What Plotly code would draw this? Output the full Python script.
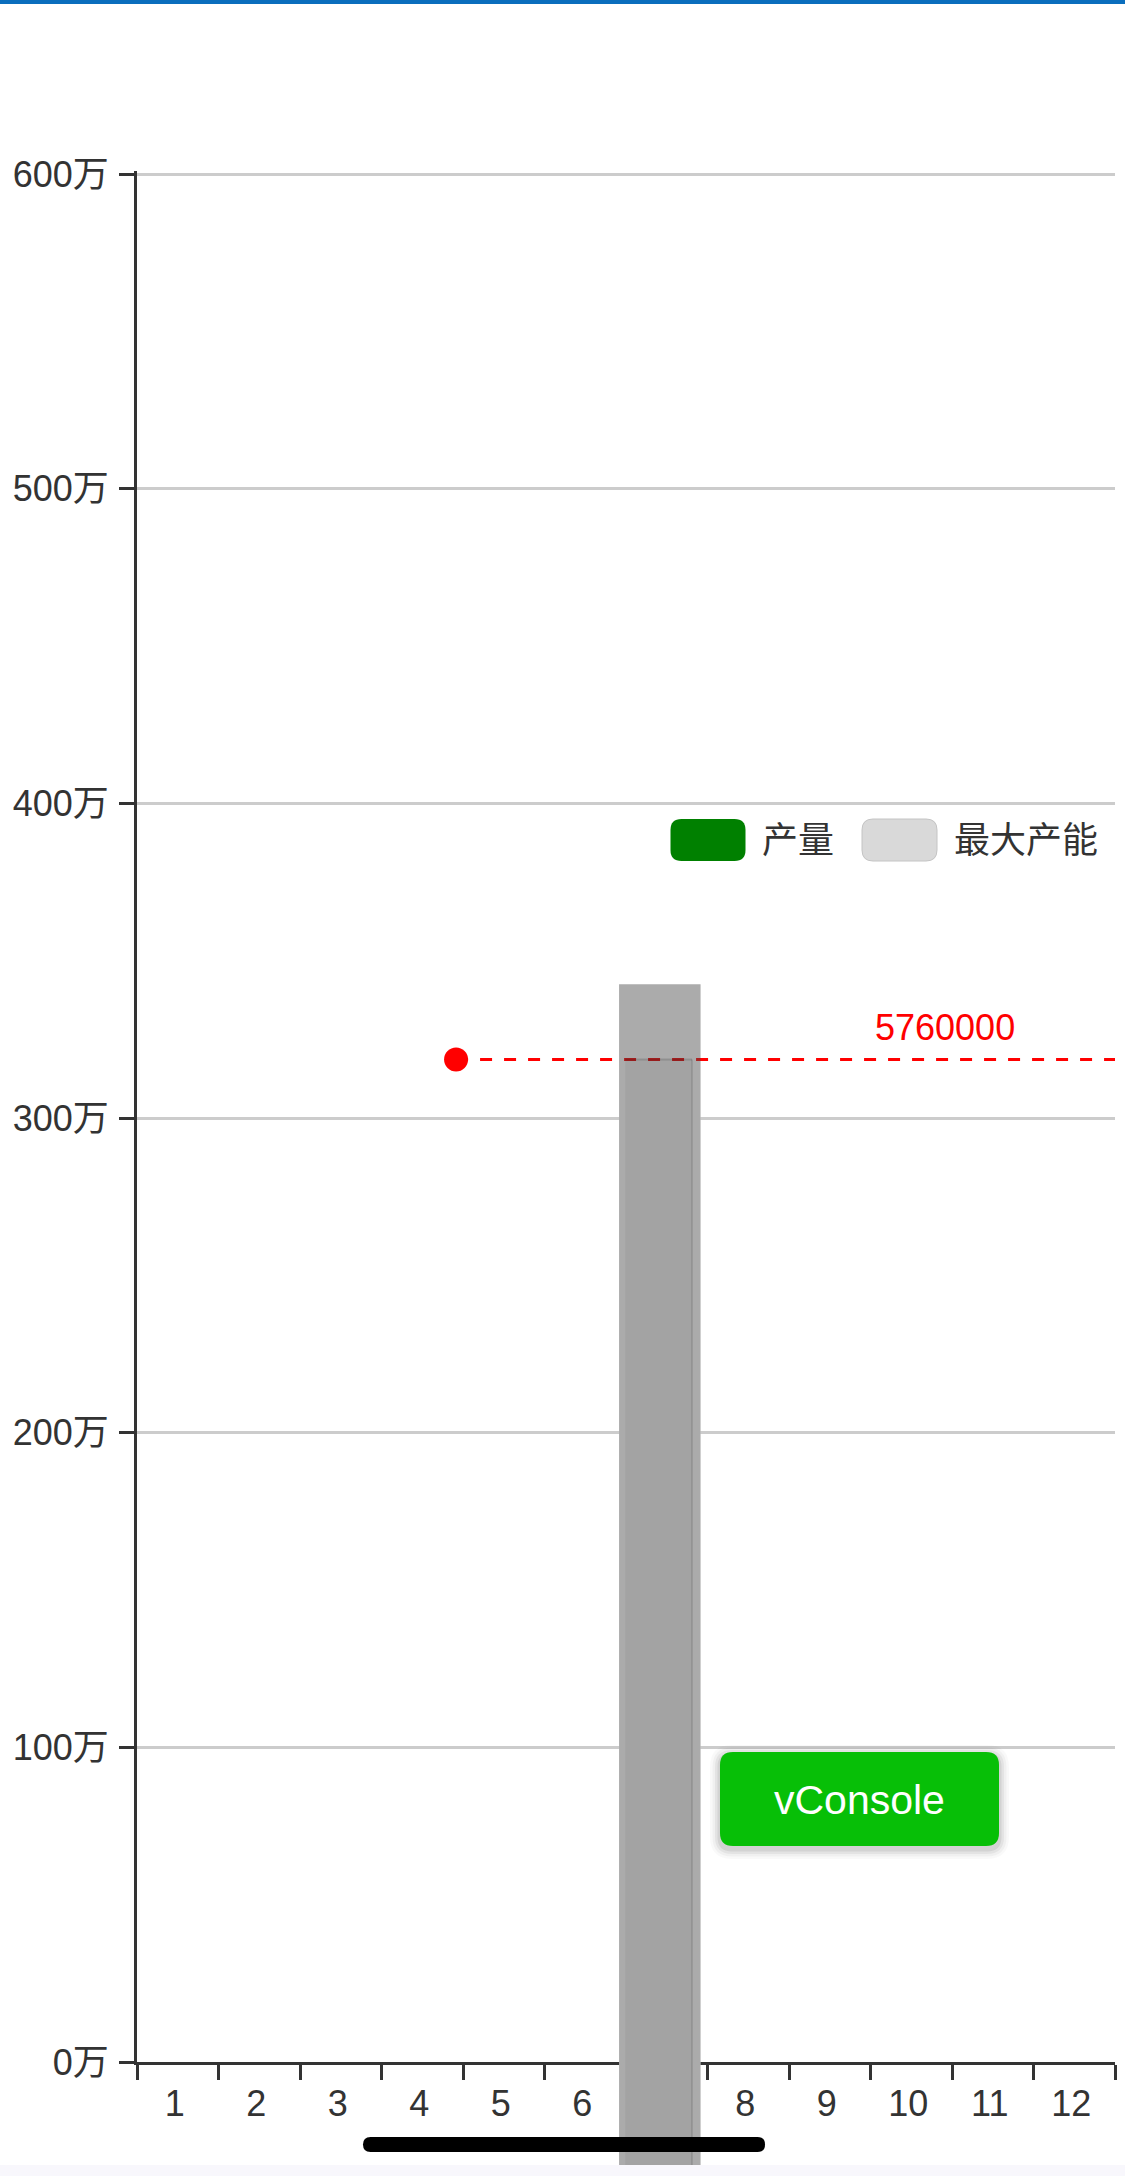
import plotly.graph_objects as go

# ---------------- data ----------------
months = [str(i) for i in range(1, 13)]
month_pos = list(range(12))
production = [0] * 12          # 产量 (no visible bars)
capacity = [0] * 12            # 最大产能 (no visible bars)
series_names = ["产量", "最大产能"]
series_colors = ["#008000", "#d9d9d9"]

y_tick_vals = [0, 1000000, 2000000, 3000000, 4000000, 5000000, 6000000]
y_tick_text = ["0万", "100万", "200万", "300万", "400万", "500万", "600万"]

highlight_center = [5.915]
highlight_top = [3425000]
inner_center = [5.90]
inner_top = [3186000]

markline_start = [3.415]
markline_value = [3186000]
markline_label = ["5760000"]
markline_label_pos = [9.41]

FONT = "Liberation Sans, Noto Sans CJK SC, sans-serif"

# pixel -> paper helpers for decorations
L, R, T, B = 137, 10, 171, 114
W, H = 1125, 2176
PW, PH = W - L - R, H - T - B
Y_MAX = 6010000


def px(x):
    return (x - L) / PW


def py(y):
    return (H - B - y) / PH


def rrect(x0, y0, x1, y1, r):
    pts = [
        ("M", x0 + r, y0), ("L", x1 - r, y0), ("Q", x1, y0, x1, y0 + r),
        ("L", x1, y1 - r), ("Q", x1, y1, x1 - r, y1), ("L", x0 + r, y1),
        ("Q", x0, y1, x0, y1 - r), ("L", x0, y0 + r), ("Q", x0, y0, x0 + r, y0),
    ]
    s = ""
    for p in pts:
        cmd = p[0]
        coords = p[1:]
        parts = []
        for i in range(0, len(coords), 2):
            parts.append(f"{px(coords[i]):.5f},{py(coords[i+1]):.5f}")
        s += cmd + " ".join(parts) + " "
    return s + "Z"


fig = go.Figure()

fig.add_trace(go.Bar(x=month_pos, y=production, name=series_names[0],
                     marker=dict(color=series_colors[0], line=dict(width=0)),
                     showlegend=False, hoverinfo="skip"))
fig.add_trace(go.Bar(x=month_pos, y=capacity, name=series_names[1],
                     marker=dict(color=series_colors[1], line=dict(width=0)),
                     showlegend=False, hoverinfo="skip"))

# red start dot of the mark line
fig.add_trace(go.Scatter(x=markline_start, y=markline_value, mode="markers",
                         marker=dict(color="#ff0000", size=24, line=dict(width=0)),
                         showlegend=False, hoverinfo="skip", cliponaxis=False))

shapes = []
hw = 0.5
iw = 0.41
bottom = py(2165)
# white base covering axis / label under highlighted column
for c, top in zip(highlight_center, highlight_top):
    shapes.append(dict(type="rect", xref="x", yref="y", x0=c - hw, x1=c + hw, y0=0, y1=top,
                       fillcolor="#ffffff", line=dict(width=0), layer="above"))
    shapes.append(dict(type="rect", xref="x", yref="paper", x0=c - hw, x1=c + hw,
                       y0=bottom, y1=0, fillcolor="#ffffff", line=dict(width=0), layer="above"))
# red dashed mark line
for s, v in zip(markline_start, markline_value):
    shapes.append(dict(type="line", xref="x", yref="y", x0=s, x1=11.5, y0=v, y1=v,
                       line=dict(color="#ff0000", width=3, dash="12px,12px"), layer="above"))
# translucent overlay
for c, top in zip(highlight_center, highlight_top):
    shapes.append(dict(type="rect", xref="x", yref="y", x0=c - hw, x1=c + hw, y0=0, y1=top,
                       fillcolor="rgba(73,73,73,0.46)", line=dict(width=0), layer="above"))
    shapes.append(dict(type="rect", xref="x", yref="paper", x0=c - hw, x1=c + hw,
                       y0=bottom, y1=0, fillcolor="rgba(73,73,73,0.46)", line=dict(width=0),
                       layer="above"))
# inner darker column with top/right edge
for c, top in zip(inner_center, inner_top):
    shapes.append(dict(type="rect", xref="x", yref="y", x0=c - iw, x1=c + iw, y0=0, y1=top,
                       fillcolor="rgba(0,0,0,0.045)", line=dict(width=0), layer="above"))
    shapes.append(dict(type="rect", xref="x", yref="paper", x0=c - iw, x1=c + iw,
                       y0=bottom, y1=0, fillcolor="rgba(0,0,0,0.045)", line=dict(width=0),
                       layer="above"))
    shapes.append(dict(type="line", xref="x", yref="y", x0=c - iw, x1=c + iw, y0=top, y1=top,
                       line=dict(width=2, color="rgba(0,0,0,0.14)"), layer="above"))
    shapes.append(dict(type="line", xref="x", yref="y", x0=c + iw, x1=c + iw, y0=0, y1=top,
                       line=dict(width=2, color="rgba(0,0,0,0.10)"), layer="above"))
    shapes.append(dict(type="line", xref="x", yref="paper", x0=c + iw, x1=c + iw, y0=bottom, y1=0,
                       line=dict(width=2, color="rgba(0,0,0,0.10)"), layer="above"))

# legend swatches
shapes.append(dict(type="path", xref="paper", yref="paper", path=rrect(670.5, 819, 745.5, 861, 11),
                   fillcolor=series_colors[0], line=dict(width=0), layer="above"))
shapes.append(dict(type="path", xref="paper", yref="paper", path=rrect(862, 819, 937, 861, 11),
                   fillcolor=series_colors[1], line=dict(width=1, color="#c4c4c4"), layer="above"))

# vConsole button shadow + body
for i, a in enumerate([0.025, 0.035, 0.05, 0.07]):
    g = 10 - i * 2.5
    shapes.append(dict(type="path", xref="paper", yref="paper",
                       path=rrect(720 - g, 1752 - g + 3, 999 + g, 1846 + g + 3, 12 + g),
                       fillcolor=f"rgba(0,0,0,{a})", line=dict(width=0), layer="above"))
shapes.append(dict(type="path", xref="paper", yref="paper", path=rrect(720, 1752, 999, 1846, 13),
                   fillcolor="#07bf07", line=dict(width=0), layer="above"))

# page chrome: top blue bar, bottom strip, home indicator
shapes.append(dict(type="rect", xref="paper", yref="paper", x0=px(0), x1=px(1125), y0=py(0), y1=py(4),
                   fillcolor="#0a6ebd", line=dict(width=0), layer="above"))
shapes.append(dict(type="rect", xref="paper", yref="paper", x0=px(0), x1=px(1125), y0=py(2165), y1=py(2176),
                   fillcolor="#f8f7fc", line=dict(width=0), layer="above"))
shapes.append(dict(type="path", xref="paper", yref="paper", path=rrect(363, 2137, 765, 2152, 7.5),
                   fillcolor="#000000", line=dict(width=0), layer="above"))

annotations = []
for xp, v, t in zip(markline_label_pos, markline_value, markline_label):
    annotations.append(dict(x=xp, y=v, xref="x", yref="y", text=t, showarrow=False,
                            yanchor="bottom", xanchor="center", yshift=10,
                            font=dict(color="#ff0000", size=36, family=FONT)))
annotations.append(dict(x=px(759.6), y=py(840), xref="paper", yref="paper", text=series_names[0],
                        showarrow=False, xanchor="left", yanchor="middle",
                        font=dict(color="#333333", size=36, family=FONT)))
annotations.append(dict(x=px(952.4), y=py(840), xref="paper", yref="paper", text=series_names[1],
                        showarrow=False, xanchor="left", yanchor="middle",
                        font=dict(color="#333333", size=36, family=FONT)))
annotations.append(dict(x=px(859.5), y=py(1800), xref="paper", yref="paper", text="vConsole",
                        showarrow=False, xanchor="center", yanchor="middle",
                        font=dict(color="#ffffff", size=41, family=FONT)))

fig.update_layout(
    width=W, height=H,
    margin=dict(l=L, r=R, t=T, b=B, pad=0),
    paper_bgcolor="#ffffff", plot_bgcolor="#ffffff",
    font=dict(family=FONT, size=36, color="#333333"),
    showlegend=False,
    barmode="group",
    shapes=shapes,
    annotations=annotations,
    xaxis=dict(
        range=[-0.5, 11.5], tickmode="array", tickvals=month_pos, ticktext=months,
        ticks="outside", ticklen=8, tickwidth=3, tickcolor="rgba(0,0,0,0)",
        ticklabelshift=-3,
        showline=True, linecolor="#333333", linewidth=3,
        showgrid=False, zeroline=False, fixedrange=True,
        tickfont=dict(size=36, color="#333333", family=FONT),
        minor=dict(tickmode="array", tickvals=[i - 0.5 for i in range(13)], ticks="outside",
                   ticklen=15, tickwidth=3, tickcolor="#333333", showgrid=False),
    ),
    yaxis=dict(
        range=[0, Y_MAX], tickmode="array", tickvals=y_tick_vals, ticktext=y_tick_text,
        ticks="outside", ticklen=15, tickwidth=3, tickcolor="#333333",
        ticklabelstandoff=3,
        showline=True, linecolor="#333333", linewidth=3,
        showgrid=True, gridcolor="#cccccc", gridwidth=3, zeroline=False, fixedrange=True,
        tickfont=dict(size=36, color="#333333", family=FONT),
    ),
)

fig.write_html("out.html", config={"displayModeBar": False, "staticPlot": True},
               post_script="document.body.style.margin='0';document.body.style.overflow='hidden';")
